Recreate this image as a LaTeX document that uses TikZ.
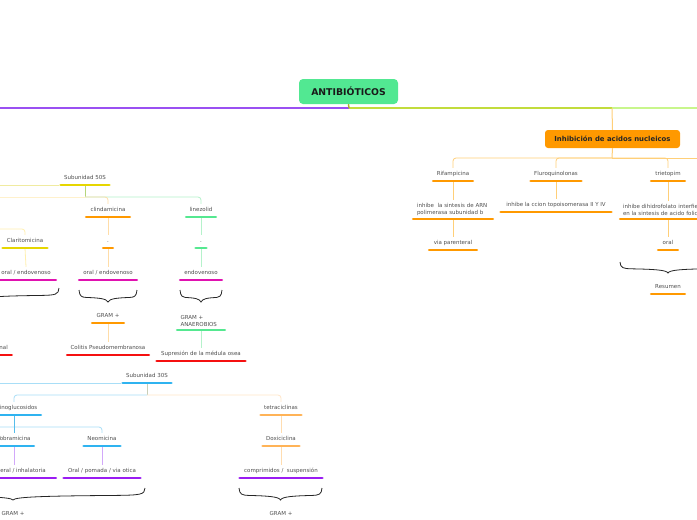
\documentclass[tikz,border=0pt]{standalone}
\usepackage{fontspec}
\setmainfont{DejaVu Sans}
\usetikzlibrary{calc}
\definecolor{txt}{HTML}{505050}
\definecolor{rootg}{HTML}{52E892}
\definecolor{nucor}{HTML}{FF9900}
\definecolor{purp}{HTML}{9A50F2}
\definecolor{yg}{HTML}{C2DC3C}
\definecolor{lg}{HTML}{C8F68C}
\definecolor{olv}{HTML}{B0B028}
\definecolor{or}{HTML}{FF9900}
\definecolor{yel}{HTML}{E6D600}
\definecolor{mag}{HTML}{E012B0}
\definecolor{rd}{HTML}{F51010}
\definecolor{grn}{HTML}{55E890}
\definecolor{blu}{HTML}{2FB3F0}
\definecolor{pur}{HTML}{9A1CF2}
\definecolor{tor}{HTML}{FFB357}
\definecolor{lor}{HTML}{FFCF78}
\definecolor{lorb}{HTML}{FFDDA8}
\definecolor{lgr}{HTML}{B5F2CB}
\definecolor{lyl}{HTML}{F0EBA0}
\definecolor{lyc}{HTML}{FFF0B0}
\definecolor{beige}{HTML}{FFF1CC}
\definecolor{lbl}{HTML}{A8DEF7}
\definecolor{mbl}{HTML}{55BDEB}
\definecolor{lpu}{HTML}{D2A8FA}
\definecolor{lorc}{HTML}{FFDDB0}
\definecolor{lord}{HTML}{FFE6C8}
\definecolor{ygr}{HTML}{B5D57A}
\definecolor{gst}{HTML}{C8CFB8}
\tikzset{
  base/.style={font=\fontsize{5.5}{6.6}\selectfont, text=txt, inner xsep=0pt, inner ysep=3.8pt, anchor=south},
  item/.style={base, text height=4pt, text depth=1.2pt, minimum width=#1},
  item/.default=10pt,
  itemtwo/.style={base, align=left, inner ysep=3.3pt, minimum width=#1},
  ul/.style={line width=2.6pt, line cap=round, draw=#1, shorten <=1.3pt, shorten >=1.3pt},
  con/.style={line width=0.8pt, draw=#1},
  bus/.style={line width=0.8pt, draw=#1, rounded corners=3pt},
  mainline/.style={line width=1.8pt, draw=#1},
  bracestyle/.style={line width=0.8pt, draw=black!85},
  mainbox/.style={fill=rootg, rounded corners=4pt, minimum width=99pt, minimum height=25pt, inner sep=0pt, font=\bfseries\fontsize{9.3}{10}\selectfont, text=black!90},
  nucbox/.style={fill=nucor, rounded corners=3pt, minimum width=135pt, minimum height=18pt, inner sep=0pt, font=\bfseries\fontsize{6.9}{8}\selectfont, text=black!85}
}
\newcommand{\curlybrace}[4]{%
  \pgfmathsetmacro{\bxm}{(#1+#2)/2}%
  \pgfmathsetmacro{\bL}{(#2-#1)/2}%
  \draw[bracestyle] (#1,#3) .. controls (#1+0.5,#3+0.55*#4) and (#1+3,#3+0.6*#4) .. (#1+0.25*\bL,#3+0.62*#4)
    .. controls (\bxm-0.3*\bL,#3+0.66*#4) and (\bxm-1.5,#3+0.72*#4) .. (\bxm,#3+#4)
    .. controls (\bxm+1.5,#3+0.72*#4) and (\bxm+0.3*\bL,#3+0.66*#4) .. (#2-0.25*\bL,#3+0.62*#4)
    .. controls (#2-3,#3+0.6*#4) and (#2-0.5,#3+0.55*#4) .. (#2,#3);%
}
\begin{document}
\begin{tikzpicture}[x=1pt,y=-1pt]
\useasboundingbox (0,0) rectangle (697,520);
\clip (0,0) rectangle (697,520);
\fill[white] (0,0) rectangle (697,520);

% ---------- main nodes ----------
\node[mainbox] (root) at (348.5,91.5) {ANTIBIÓTICOS};
\node[nucbox] (nuc) at (612.5,139) {Inhibición de acidos nucleicos};

% ---------- right branch ----------
\node[item=42] (rif) at (453,181) {Rifampicina};
\node[itemtwo=82, text width=72pt] (rif2) at (453,219) {inhibe~ la sintesis de ARN\\polimerasa subunidad b};
\node[item=50] (rif3) at (453,250) {via parenteral};
\node[item=53] (flu) at (556,181) {Fluroquinolonas};
\node[item=113] (flu2) at (556,212) {inhibe la ccion topoisomerasa II Y IV};
\node[item=36] (tri) at (668,181) {trietopim};
\node[itemtwo=98, text width=90pt] (tri2) at (668,219) {inhibe dihidrofolato interfiere\\en la sintesis de acido folico};
\node[item=22] (tri3) at (668,250) {oral};
\node[item=36] (res) at (668,294) {Resumen};

% ---------- 50S ----------
\node[item=51] (s50) at (85,185) {Subunidad 50S};
\node[item=46] (clin) at (108,217) {clindamicina};
\node[item=12] (clin2) at (108,248) {.};
\node[item=60] (clin3) at (108,280) {oral / endovenoso};
\node[item=34] (clin4) at (108,323) {GRAM +};
\node[item=84] (clin5) at (108,355) {Colitis Pseudomembranosa};
\node[item=32] (lin) at (201,217) {linezolid};
\node[item=13] (lin2) at (201,248) {.};
\node[item=44] (lin3) at (201,280) {endovenoso};
\node[itemtwo=50, text width=41pt] (lin4) at (201,330) {GRAM +\\ANAEROBIOS};
\node[item=91] (lin5) at (201,361) {Supresión de la médula osea};
\node[item=47] (cla) at (25,248) {Claritomicina};
\node[item=62] (cla2) at (26,280) {oral / endovenoso};
\node[item, anchor=south east, inner xsep=5pt] (nal) at (13,355) {nal};

% ---------- 30S ----------
\node[item=51] (s30) at (147,383) {Subunidad 30S};
\node[item=56] (ami) at (14,415) {Aminoglucosidos};
\node[item=42] (tob) at (14,446) {Tobramicina};
\node[item=86] (tob2) at (14,478) {parenteral / inhalatoria};
\node[item=39] (neo) at (102,446) {Neomicina};
\node[item=79] (neo2) at (102,478) {Oral / pomada / via otica};
\node[item=43] (tet) at (281,415) {tetraciclinas};
\node[item=39] (dox) at (281,446) {Doxiciclina};
\node[item=85] (comp) at (281,478) {comprimidos /~ suspensión};
\node[item=34] (gram1) at (13,521) {GRAM +};
\node[item=34] (gram2) at (281,521) {GRAM +};

% ---------- coordinates ----------
\coordinate (j) at (349,108);
\coordinate (L0) at (-5,108);
\coordinate (jn) at (612,108);
\coordinate (R0) at (702,108);
\coordinate (bn) at (612,158);
\coordinate (Rb) at (702,158);
\coordinate (s50in) at (-5,185);
\coordinate (b50) at (85,197);
\coordinate (b50L) at (-5,197);
\coordinate (claIn) at (-5,229);
\coordinate (s30in) at (-5,383);
\coordinate (b30) at (147,395);
\coordinate (amiIn) at (-5,427);

% ---------- main connectors ----------
\draw[mainline=purp] (j) -- (L0);
\draw[mainline=yg] (j) -- (jn);
\draw[mainline=lg] (jn) -- (R0);
\draw[line width=1.4pt, draw=olv] (root.south) -- (j);
\draw[con=lor, line width=1pt] (jn) -- (nuc.north);
\draw[con=lor, line width=1pt] (nuc.south) -- (bn);
\draw[bus=lor] (bn) -- (Rb);
\draw[bus=lor] (bn) -| (rif.north);
\draw[bus=lor] (bn) -| (flu.north);
\draw[bus=lor] (bn) -| (tri.north);
\draw[con=lor] (rif.south) -- (rif2.north);
\draw[con=lor] (rif2.south) -- (rif3.north);
\draw[con=lor] (flu.south) -- (flu2.north);
\draw[con=lor] (tri.south) -- (tri2.north);
\draw[con=lor] (tri2.south) -- (tri3.north);

% ---------- 50S connectors ----------
\draw[con=lyl] (s50in) -- (s50.south west);
\draw[con=ygr] (s50.south) -- (b50);
\draw[con=beige] (b50) -- (b50L);
\draw[bus=lgr] (b50) -| (lin.north);
\draw[bus=lorb] (b50) -| (clin.north);
\draw[bus=lyc] (claIn) -| (cla.north);
\draw[con=lorb] (clin.south) -- (clin2.north);
\draw[con=lorb] (clin2.south) -- (clin3.north);
\draw[con=lorb] (clin4.south) -- (clin5.north);
\draw[con=lgr] (lin.south) -- (lin2.north);
\draw[con=lgr] (lin2.south) -- (lin3.north);
\draw[con=lgr] (lin4.south) -- (lin5.north);
\draw[con=lyc] (cla.south) -- (cla2.north);

% ---------- 30S connectors ----------
\draw[con=lbl] (s30in) -- (s30.south west);
\draw[con=gst] (s30.south) -- (b30);
\draw[bus=lbl] (b30) -| (ami.north);
\draw[bus=lord] (b30) -| (tet.north);
\draw[bus=lbl] (amiIn) -| (neo.north);
\draw[con=mbl] (ami.south) -- (tob.north);
\draw[con=lpu] (tob.south) -- (tob2.north);
\draw[con=lpu] (neo.south) -- (neo2.north);
\draw[con=lorc] (tet.south) -- (dox.north);
\draw[con=lorc] (dox.south) -- (comp.north);

% ---------- braces ----------
\curlybrace{620}{716}{262}{11}
\curlybrace{79}{137}{290}{12}
\curlybrace{180}{222}{290}{12}
\curlybrace{-95}{59}{288}{12}
\curlybrace{-119}{145}{488}{12}
\curlybrace{239}{322}{488}{12}

% ---------- underlines ----------
\foreach \n/\c in {rif/or, rif2/or, rif3/or, flu/or, flu2/or, tri/or, tri2/or, tri3/or, res/or,
  s50/yel, clin/or, clin2/or, clin3/mag, clin4/or, clin5/rd, lin/grn, lin2/grn, lin3/mag, lin4/grn, lin5/rd,
  cla/yel, cla2/mag, nal/rd, s30/blu, ami/blu, tob/blu, tob2/pur, neo/blu, neo2/pur, tet/tor, dox/tor, comp/pur}
  \draw[ul=\c] (\n.south west) -- (\n.south east);
\end{tikzpicture}
\end{document}
